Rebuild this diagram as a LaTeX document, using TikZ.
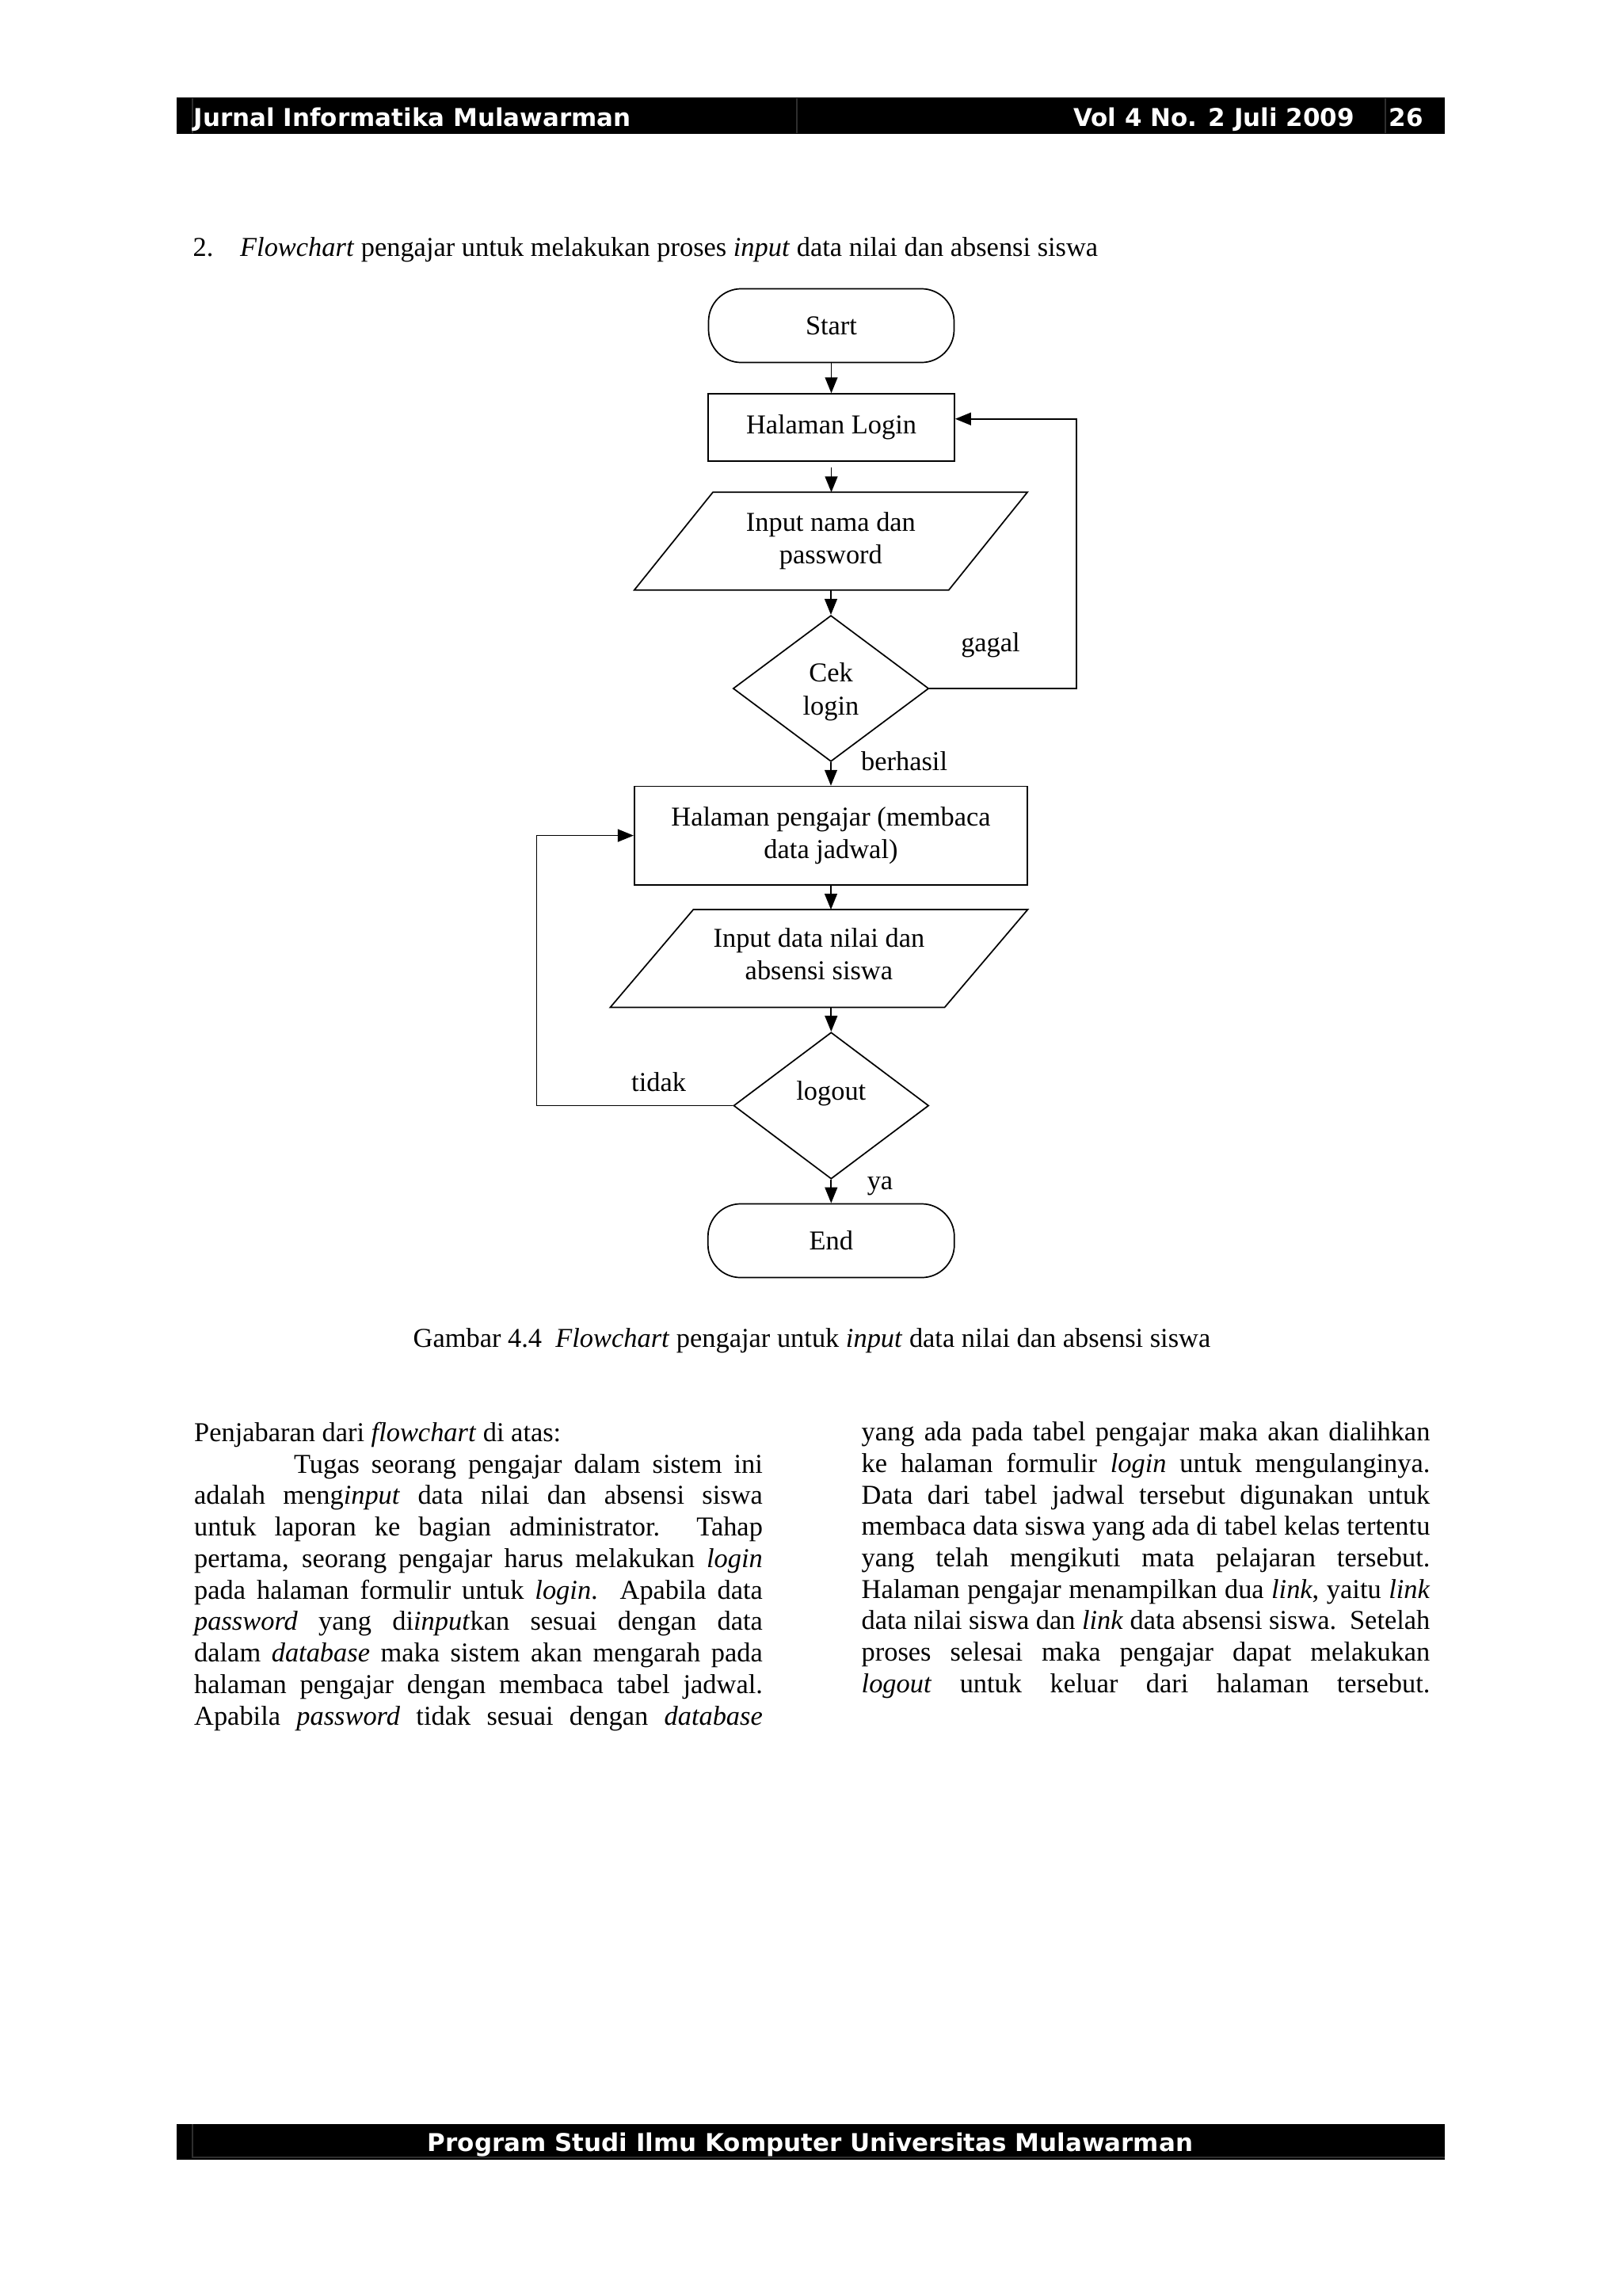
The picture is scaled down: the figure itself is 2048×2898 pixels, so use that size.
\documentclass[tikz,border=0pt]{standalone}
\usepackage{fontspec}
\setmainfont{Liberation Serif}
\newfontfamily\hdfont{DejaVu Sans}
\usetikzlibrary{arrows.meta,shapes.geometric}
\newdimen\colw \colw=208.6pt
\newcommand{\jl}[1]{\hbox to\colw{#1}}
\newcommand{\fl}[1]{\hbox to\colw{#1\hfil}}
\newcommand{\bodyfont}{\fontsize{10}{11.55}\selectfont}
\begin{document}
\begin{tikzpicture}[x=0.29066pt,y=-0.29066pt,
  base/.style={draw, line width=0.5pt, font=\fontsize{10}{12}\selectfont, align=center, inner sep=0pt},
  term/.style={base, rectangle, rounded corners=12pt, minimum width=90.1pt, minimum height=27.05pt},
  proc/.style={base, rectangle},
  io/.style={rectangle, inner sep=0pt, outer sep=0pt, align=center, font=\fontsize{10}{12}\selectfont},
  dec/.style={base, diamond, minimum width=71.8pt, minimum height=53.6pt},
  arr/.style={-{Triangle[length=5.8pt,width=4.6pt]}, line width=0.5pt},
  lbl/.style={inner sep=0pt, font=\fontsize{10}{12}\selectfont},
  hd/.style={inner sep=0pt, text=white, font=\hdfont\bfseries\fontsize{9.0}{11}\selectfont},
  bar/.style={fill=black},
  rule/.style={draw=black!82!white, line width=0.4pt}
]
\useasboundingbox (0,0) rectangle (2048,2898);
\fill[white] (0,0) rectangle (2048,2898);

% header
\fill[bar] (223,123.3) rectangle (1824,168.7);
\draw[rule] (243,124) -- (243,168) (1006,124) -- (1006,168) (1749,124) -- (1749,168);
\node[hd, anchor=base west] (jn) at (244,159.3) {Jurnal Informatika Mulawarman};
\node[hd, anchor=base east] (vol) at (1710.5,159.3) {Vol 4 No. 2 Juli 2009};
\node[hd, anchor=base east] (pg) at (1797.6,159.3) {26};

% footer
\fill[bar] (223,2680.7) rectangle (1824,2725.7);
\draw[rule] (243,2681) -- (243,2723) -- (1824,2723);
\node[hd, anchor=base] (ft) at (1023,2715.7) {Program Studi Ilmu Komputer Universitas Mulawarman};

% heading line
\node[lbl, anchor=base west, font=\bodyfont] (title) at (243,323) {\makebox[17.3pt][l]{2.}\textit{Flowchart} pengajar untuk melakukan proses \textit{input} data nilai dan absensi siswa};

% flowchart
\node[term] (start) at (1049.5,411) {Start};
\node[proc, minimum width=90.4pt, minimum height=24.6pt] (login) at (1049.5,539.4) {Halaman Login};
\node[io, minimum width=144.2pt, minimum height=35.84pt] (p1) at (1048.9,683) {Input nama dan\\password};
\draw[line width=0.5pt] ([xshift=28.8pt]p1.north west) -- (p1.north east) -- ([xshift=-28.8pt]p1.south east) -- (p1.south west) -- cycle;
\node[dec, text height=21.4pt] (d1) at (1049,869) {Cek\\login};
\node[proc, minimum width=144.3pt, minimum height=36.07pt] (box2) at (1049,1054.6) {Halaman pengajar (membaca\\data jadwal)};
\node[io, minimum width=153.2pt, minimum height=35.9pt, text depth=3.2pt] (p2) at (1033.9,1209.8) {Input data nilai dan\\absensi siswa};
\draw[line width=0.5pt] ([xshift=30.5pt]p2.north west) -- (p2.north east) -- ([xshift=-30.5pt]p2.south east) -- (p2.south west) -- cycle;
\node[dec, minimum width=71.6pt, minimum height=53.8pt, text height=7pt, text depth=11pt] (d2) at (1049.3,1395.5) {logout};
\node[term, minimum width=90.4pt] (end) at (1049.3,1566) {End};

\draw[arr] (start) -- (login);
\draw[arr] ([yshift=-2.1pt]login.south) -- (login.south |- p1.north);
\draw[arr] (d1.north |- p1.south) -- (d1.north);
\draw[arr] (d1.south) -- (box2.north);
\draw[arr] (box2.south) -- (box2.south |- p2.north);
\draw[arr] (d2.north |- p2.south) -- (d2.north);
\draw[arr] (d2.south) -- (end.north);

\coordinate (gR) at (1359.3,869);
\coordinate (tL) at (677.4,1396);
\draw[arr] (d1.east) -- (d1.east -| gR) |- ([yshift=3.1pt]login.east);
\draw[arr] (d2.west) -- (d2.west -| tL) |- (box2.west);

\node[lbl, anchor=base] (lgagal) at (1250.5,822.5) {gagal};
\node[lbl, anchor=base] (lberhasil) at (1141.6,972) {berhasil};
\node[lbl, anchor=base] (ltidak) at (831.6,1377.4) {tidak};
\node[lbl, anchor=base] (lya) at (1111,1501) {ya};

% caption
\node[lbl, anchor=base, font=\bodyfont] (caption) at (1025,1700.5) {Gambar 4.4\ \ \textit{Flowchart} pengajar untuk \textit{input} data nilai dan absensi siswa};

% body columns
\node[inner sep=0pt, anchor=base west] (colL) at (244.5,1819.5) {\vtop{\bodyfont\baselineskip=11.55pt
\fl{Penjabaran dari \textit{flowchart} di atas:}
\jl{\hspace*{36.6pt}Tugas seorang pengajar dalam sistem ini}
\jl{adalah meng\textit{input} data nilai dan absensi siswa}
\jl{untuk laporan ke bagian administrator.\ \ Tahap}
\jl{pertama, seorang pengajar harus melakukan \textit{login}}
\jl{pada halaman formulir untuk \textit{login}.\ \ Apabila data}
\jl{\textit{password} yang di\textit{input}kan sesuai dengan data}
\jl{dalam \textit{database} maka sistem akan mengarah pada}
\jl{halaman pengajar dengan membaca tabel jadwal.}
\jl{Apabila \textit{password} tidak sesuai dengan \textit{database}}
}};
\node[inner sep=0pt, anchor=base west] (colR) at (1087,1818.5) {\vtop{\bodyfont\baselineskip=11.55pt
\jl{yang ada pada tabel pengajar maka akan dialihkan}
\jl{ke halaman formulir \textit{login} untuk mengulanginya.}
\jl{Data dari tabel jadwal tersebut digunakan untuk}
\jl{membaca data siswa yang ada di tabel kelas tertentu}
\jl{yang telah mengikuti mata pelajaran tersebut.}
\jl{Halaman pengajar menampilkan dua \textit{link}, yaitu \textit{link}}
\jl{data nilai siswa dan \textit{link} data absensi siswa.\ \ Setelah}
\jl{proses selesai maka pengajar dapat melakukan}
\jl{\textit{logout} untuk keluar dari halaman tersebut.}
}};
\end{tikzpicture}
\end{document}
